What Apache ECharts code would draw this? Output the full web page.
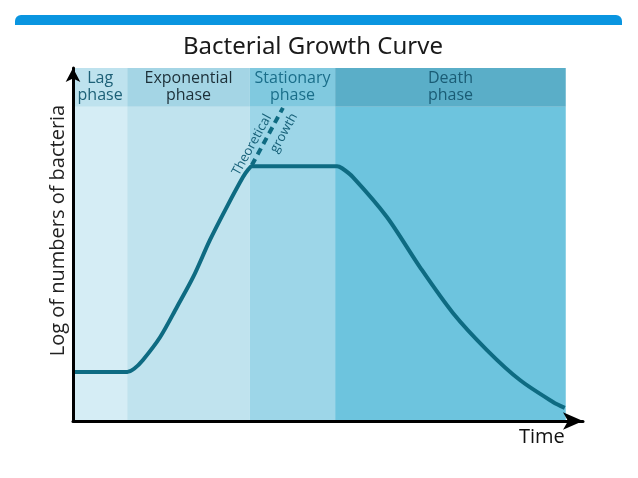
<!DOCTYPE html>
<html>
<head>
<meta charset="utf-8">
<script src="https://cdn.jsdelivr.net/npm/echarts@6/dist/echarts.min.js"></script>
<style>
  html, body { margin: 0; background: #fff; }
  #chart { width: 638px; height: 478px; }
</style>
</head>
<body>
<div id="chart"></div>
<script>
// phases of growth (time units along x)
const phaseNames = ['Lag\nphase', 'Exponential\nphase', 'Stationary\nphase', 'Death\nphase']
const phaseStart = [0, 11, 35.9, 53.2]
const phaseEnd = [11, 35.9, 53.2, 100]
const bodyColors = ['#d5edf5', '#c0e3ee', '#9dd6e8', '#6dc4de']
const stripColors = ['#bee2ee', '#a4d5e5', '#80c9df', '#5aaec8']
const labelColors = ['#1d6077', '#1c2f38', '#1a6e8a', '#1a5c75']

// the growth curve
const timeX = [0, 11, 12.4, 14.2, 17.7, 21.1, 24.4, 27.8, 31.2, 34.5, 35.6, 36.3, 53.6, 54.6, 56.8, 63.7, 70.4, 77.1, 84.0, 90.7, 97.4, 99.8]
const logCount = [13.9, 13.9, 14.8, 17.3, 23.8, 32.3, 40.8, 51.3, 60.6, 69.1, 71.3, 72.2, 72.2, 71.6, 69.1, 57.8, 43.6, 30.6, 20.1, 11.6, 5.4, 3.7]

// theoretical (continued exponential) growth
const theoryX = [36.3, 42.6]
const theoryY = [72.5, 88.7]

const stripBottom = 89

const chart = echarts.init(document.getElementById('chart'))

const bodyAreas = phaseNames.map((n, i) => [
  { xAxis: phaseStart[i], yAxis: 0, itemStyle: { color: bodyColors[i] } },
  { xAxis: phaseEnd[i], yAxis: stripBottom },
])
const stripAreas = phaseNames.map((n, i) => [
  {
    name: n,
    xAxis: phaseStart[i],
    yAxis: stripBottom,
    itemStyle: { color: stripColors[i] },
    label: { color: labelColors[i] },
  },
  { xAxis: phaseEnd[i], yAxis: 100 },
])

const option = {
  animation: false,
  title: {
    text: 'Bacterial Growth Curve',
    left: 178,
    top: 30,
    textStyle: {
      fontFamily: 'Noto Sans',
      fontSize: 24,
      fontWeight: 'normal',
      color: '#1a1a1a',
    },
  },
  grid: { left: 73, right: 55, top: 68, bottom: 57 },
  xAxis: {
    type: 'value',
    min: 0,
    max: 103.5,
    z: 10,
    axisLine: {
      lineStyle: { color: '#000', width: 3 },
      symbol: ['none', 'arrow'],
      symbolSize: [13, 20],
    },
    axisTick: { show: false },
    axisLabel: { show: false },
    splitLine: { show: false },
  },
  yAxis: {
    type: 'value',
    min: 0,
    max: 100,
    z: 10,
    name: 'Log of numbers of bacteria',
    nameLocation: 'middle',
    nameGap: 5,
    nameTextStyle: {
      fontFamily: 'Open Sans',
      fontSize: 20,
      color: '#222',
      padding: [0, 0, 0, 28],
    },
    axisLine: {
      show: true,
      lineStyle: { color: '#000', width: 3 },
      symbol: ['none', 'arrow'],
      symbolSize: [11, 14],
    },
    axisTick: { show: false },
    axisLabel: { show: false },
    splitLine: { show: false },
  },
  series: [
    {
      type: 'line',
      name: 'Growth',
      data: timeX.map((x, i) => [x, logCount[i]]),
      smooth: 0.3,
      showSymbol: false,
      lineStyle: { color: '#0e6b82', width: 4 },
      z: 3,
      markArea: {
        silent: true,
        label: {
          position: 'inside',
          fontFamily: 'Open Sans',
          fontSize: 16,
          lineHeight: 17,
        },
        data: bodyAreas.concat(stripAreas),
      },
    },
    {
      type: 'line',
      name: 'Theoretical growth',
      data: theoryX.map((x, i) => [x, theoryY[i]]),
      showSymbol: false,
      lineStyle: { color: '#0e6b82', width: 4, type: [7, 5] },
      z: 3,
    },
  ],
}

chart.setOption(option)

// annotation text along the theoretical line, and the top banner
const notePos = [[36.3, 78.2], [42.8, 81.6]]
const noteText = ['Theoretical', 'growth']
const p0 = chart.convertToPixel({ gridIndex: 0 }, notePos[0])
const p1 = chart.convertToPixel({ gridIndex: 0 }, notePos[1])

chart.setOption({
  graphic: [
    {
      type: 'rect',
      shape: { x: 15, y: 15, width: 607, height: 10, r: [6, 6, 0, 0] },
      style: { fill: '#0a95e0' },
    },
    {
      type: 'text',
      x: p0[0],
      y: p0[1],
      rotation: 61 * Math.PI / 180,
      style: {
        text: noteText[0],
        font: '13px "Open Sans"',
        fill: '#176179',
        align: 'center',
        verticalAlign: 'middle',
      },
      z: 20,
    },
    {
      type: 'text',
      x: p1[0],
      y: p1[1],
      rotation: 61 * Math.PI / 180,
      style: {
        text: noteText[1],
        font: '13px "Open Sans"',
        fill: '#176179',
        align: 'center',
        verticalAlign: 'middle',
      },
      z: 20,
    },
    {
      type: 'text',
      left: 519,
      top: 427,
      style: {
        text: 'Time',
        font: '20px "Open Sans"',
        fill: '#111',
      },
    },
  ],
})
</script>
</body>
</html>
